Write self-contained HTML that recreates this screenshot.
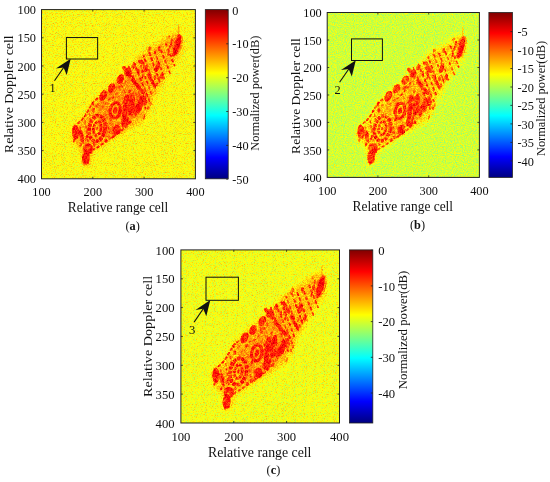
<!DOCTYPE html>
<html><head><meta charset="utf-8"><title>figure</title>
<style>
html,body{margin:0;padding:0;background:#fff}
svg{display:block}
text{font-family:"Liberation Serif","DejaVu Serif",serif;fill:#111}
</style></head><body>
<svg width="550" height="482" viewBox="0 0 550 482">
<defs>
<filter id="b2" x="-20%" y="-20%" width="140%" height="140%"><feGaussianBlur stdDeviation="2.8"/></filter>
<linearGradient id="jet" x1="0" y1="0" x2="0" y2="1">
<stop offset="0" stop-color="#800000"/><stop offset="0.125" stop-color="#ff0000"/><stop offset="0.25" stop-color="#ff8000"/>
<stop offset="0.375" stop-color="#ffff00"/><stop offset="0.5" stop-color="#80ff80"/><stop offset="0.625" stop-color="#00ffff"/>
<stop offset="0.75" stop-color="#0080ff"/><stop offset="0.875" stop-color="#0000ff"/><stop offset="1" stop-color="#000080"/>
</linearGradient>

<filter id="fa" x="41.5" y="9.6" width="153.9" height="169.2" color-interpolation-filters="sRGB" filterUnits="userSpaceOnUse">
<feGaussianBlur in="SourceGraphic" stdDeviation="0.75" result="g"/>
<feTurbulence type="fractalNoise" baseFrequency="0.22" numOctaves="2" seed="104" result="t2"/>
<feColorMatrix in="t2" type="matrix" values="0 0 0 0 1  0 0 0 0 1  0 0 0 0 1  1 0 0 0 0" result="m2"/>
<feComposite in="g" in2="m2" operator="arithmetic" k1="1.6" k2="0.200" k3="0" k4="0" result="gm"/>
<feComponentTransfer in="gm" result="gm"><feFuncA type="table" tableValues="0 0.3 0.52 0.63 0.7"/></feComponentTransfer>
<feFlood flood-color="rgb(160,160,160)" result="fl"/>
<feComposite in="gm" in2="fl" operator="over" result="gb"/>
<feTurbulence type="fractalNoise" baseFrequency="0.9" numOctaves="2" seed="97" result="t"/>
<feColorMatrix in="t" type="matrix" values="1 0 0 0 0  1 0 0 0 0  1 0 0 0 0  0 0 0 0 1" result="n"/>
<feComposite in="gb" in2="n" operator="arithmetic" k1="0" k2="1" k3="0.22" k4="-0.110" result="s"/>
<feComponentTransfer in="s">
<feFuncR type="table" tableValues="0 0 0 0 .5 1 1 1 .5"/>
<feFuncG type="table" tableValues="0 0 .5 1 1 1 .5 0 0"/>
<feFuncB type="table" tableValues=".5 1 1 1 .52 .05 .03 .03 0"/>
<feFuncA type="linear" slope="0" intercept="1"/>
</feComponentTransfer>
</filter>
<clipPath id="ca"><rect x="41.5" y="9.6" width="153.9" height="169.2"/></clipPath>

<filter id="fb" x="327.2" y="12.5" width="152.2" height="164.9" color-interpolation-filters="sRGB" filterUnits="userSpaceOnUse">
<feGaussianBlur in="SourceGraphic" stdDeviation="0.75" result="g"/>
<feTurbulence type="fractalNoise" baseFrequency="0.22" numOctaves="2" seed="105" result="t2"/>
<feColorMatrix in="t2" type="matrix" values="0 0 0 0 1  0 0 0 0 1  0 0 0 0 1  1 0 0 0 0" result="m2"/>
<feComposite in="g" in2="m2" operator="arithmetic" k1="1.6" k2="0.200" k3="0" k4="0" result="gm"/>
<feComponentTransfer in="gm" result="gm"><feFuncA type="table" tableValues="0 0.3 0.52 0.63 0.7"/></feComponentTransfer>
<feFlood flood-color="rgb(148,148,148)" result="fl"/>
<feComposite in="gm" in2="fl" operator="over" result="gb"/>
<feTurbulence type="fractalNoise" baseFrequency="0.9" numOctaves="2" seed="98" result="t"/>
<feColorMatrix in="t" type="matrix" values="1 0 0 0 0  1 0 0 0 0  1 0 0 0 0  0 0 0 0 1" result="n"/>
<feComposite in="gb" in2="n" operator="arithmetic" k1="0" k2="1" k3="0.22" k4="-0.110" result="s"/>
<feComponentTransfer in="s">
<feFuncR type="table" tableValues="0 0 0 0 .5 1 1 1 .5"/>
<feFuncG type="table" tableValues="0 0 .5 1 1 1 .5 0 0"/>
<feFuncB type="table" tableValues=".5 1 1 1 .52 .05 .03 .03 0"/>
<feFuncA type="linear" slope="0" intercept="1"/>
</feComponentTransfer>
</filter>
<clipPath id="cb"><rect x="327.2" y="12.5" width="152.2" height="164.9"/></clipPath>

<filter id="fc" x="180.9" y="249.9" width="158.6" height="173.1" color-interpolation-filters="sRGB" filterUnits="userSpaceOnUse">
<feGaussianBlur in="SourceGraphic" stdDeviation="0.75" result="g"/>
<feTurbulence type="fractalNoise" baseFrequency="0.22" numOctaves="2" seed="106" result="t2"/>
<feColorMatrix in="t2" type="matrix" values="0 0 0 0 1  0 0 0 0 1  0 0 0 0 1  1 0 0 0 0" result="m2"/>
<feComposite in="g" in2="m2" operator="arithmetic" k1="1.6" k2="0.200" k3="0" k4="0" result="gm"/>
<feComponentTransfer in="gm" result="gm"><feFuncA type="table" tableValues="0 0.3 0.52 0.63 0.7"/></feComponentTransfer>
<feFlood flood-color="rgb(157,157,157)" result="fl"/>
<feComposite in="gm" in2="fl" operator="over" result="gb"/>
<feTurbulence type="fractalNoise" baseFrequency="0.9" numOctaves="2" seed="99" result="t"/>
<feColorMatrix in="t" type="matrix" values="1 0 0 0 0  1 0 0 0 0  1 0 0 0 0  0 0 0 0 1" result="n"/>
<feComposite in="gb" in2="n" operator="arithmetic" k1="0" k2="1" k3="0.22" k4="-0.110" result="s"/>
<feComponentTransfer in="s">
<feFuncR type="table" tableValues="0 0 0 0 .5 1 1 1 .5"/>
<feFuncG type="table" tableValues="0 0 .5 1 1 1 .5 0 0"/>
<feFuncB type="table" tableValues=".5 1 1 1 .52 .05 .03 .03 0"/>
<feFuncA type="linear" slope="0" intercept="1"/>
</feComponentTransfer>
</filter>
<clipPath id="cc"><rect x="180.9" y="249.9" width="158.6" height="173.1"/></clipPath>

</defs>

<g clip-path="url(#ca)"><g filter="url(#fa)">
<rect x="41.5" y="9.6" width="153.9" height="169.2" fill="#fff" fill-opacity="0"/>
<g transform="translate(41.50 9.60) scale(1.0000 1.0000) translate(-41.5 -9.6)">
<polygon points="72.0,127.0 80.9,120.8 85.3,115.0 88.9,108.4 93.2,101.2 102.0,92.8 110.5,85.3 119.6,77.0 127.0,69.6 133.8,63.8 138.8,56.5 148.0,49.5 158.0,43.0 168.0,36.0 176.0,31.0 183.0,42.0 181.0,54.0 174.0,63.0 167.0,74.0 162.0,83.0 156.0,93.0 151.0,104.0 147.0,114.0 143.0,121.0 136.0,125.0 130.0,128.0 125.0,131.5 118.0,136.0 110.0,140.5 101.7,146.7 93.0,151.0 91.0,164.0 83.0,166.0 81.0,149.0 72.0,141.0" fill="#fff" fill-opacity="0.16" filter="url(#b2)"/>
<polygon points="96.0,108.0 112.0,90.0 128.0,74.0 140.0,72.0 148.0,98.0 140.0,110.0 128.0,124.0 112.0,136.0 100.0,140.0" fill="#fff" fill-opacity="0.096" filter="url(#b2)"/>
<ellipse cx="75.6" cy="132.5" rx="3.6" ry="7.2" fill="#fff" fill-opacity="0.55"/>
<ellipse cx="81.4" cy="136.0" rx="2.2" ry="6.5" fill="#fff" fill-opacity="0.49500000000000005" transform="rotate(-10 81.4 136.0)"/>
<ellipse cx="88.0" cy="149.0" rx="5.0" ry="5.5" fill="#fff" fill-opacity="0.55"/>
<ellipse cx="85.8" cy="158.0" rx="3.8" ry="7.0" fill="#fff" fill-opacity="0.55" transform="rotate(5 85.8 158.0)"/>
<ellipse cx="97.2" cy="128.5" rx="7.9" ry="13.0" fill="none" stroke="#fff" stroke-opacity="0.66" stroke-width="3.5" stroke-dasharray="3.2 1.0" transform="rotate(10 97.2 128.5)"/>
<ellipse cx="97.2" cy="128.5" rx="3.6" ry="6.8" fill="none" stroke="#fff" stroke-opacity="0.6050000000000001" stroke-width="2.5" stroke-dasharray="2.6 0.9" transform="rotate(10 97.2 128.5)"/>
<ellipse cx="97.2" cy="128.5" rx="1.0" ry="2.0" fill="#fff" fill-opacity="0.55" transform="rotate(10 97.2 128.5)"/>
<ellipse cx="115.2" cy="110.4" rx="5.0" ry="7.8" fill="none" stroke="#fff" stroke-opacity="0.5775000000000001" stroke-width="3.0" transform="rotate(10 115.2 110.4)"/>
<ellipse cx="115.2" cy="110.4" rx="2.0" ry="3.4" fill="#fff" fill-opacity="0.55" transform="rotate(10 115.2 110.4)"/>
<ellipse cx="116.6" cy="129.8" rx="4.2" ry="4.8" fill="#fff" fill-opacity="0.55"/>
<ellipse cx="124.6" cy="122.0" rx="3.8" ry="4.8" fill="#fff" fill-opacity="0.55"/>
<ellipse cx="103.2" cy="95.5" rx="3.4" ry="5.8" fill="#fff" fill-opacity="0.55" transform="rotate(25 103.2 95.5)"/>
<ellipse cx="111.6" cy="87.8" rx="3.4" ry="5.0" fill="#fff" fill-opacity="0.55" transform="rotate(25 111.6 87.8)"/>
<ellipse cx="120.5" cy="79.0" rx="3.4" ry="5.0" fill="#fff" fill-opacity="0.55" transform="rotate(25 120.5 79.0)"/>
<ellipse cx="127.8" cy="71.6" rx="3.0" ry="4.5" fill="#fff" fill-opacity="0.49500000000000005" transform="rotate(25 127.8 71.6)"/>
<ellipse cx="133.8" cy="65.8" rx="2.0" ry="3.0" fill="#fff" fill-opacity="0.44000000000000006" transform="rotate(25 133.8 65.8)"/>
<ellipse cx="124.9" cy="112.0" rx="2.4" ry="10.5" fill="#fff" fill-opacity="0.55" transform="rotate(8 124.9 112.0)"/>
<ellipse cx="126.3" cy="99.5" rx="2.4" ry="5.0" fill="#fff" fill-opacity="0.49500000000000005" transform="rotate(10 126.3 99.5)"/>
<ellipse cx="131.5" cy="104.0" rx="3.1" ry="11.5" fill="#fff" fill-opacity="0.55" transform="rotate(8 131.5 104.0)"/>
<ellipse cx="140.2" cy="104.6" rx="2.7" ry="7.3" fill="#fff" fill-opacity="0.55" transform="rotate(10 140.2 104.6)"/>
<ellipse cx="136.0" cy="111.0" rx="1.8" ry="5.5" fill="#fff" fill-opacity="0.44000000000000006" transform="rotate(10 136.0 111.0)"/>
<ellipse cx="144.5" cy="99.0" rx="1.6" ry="3.5" fill="#fff" fill-opacity="0.44000000000000006" transform="rotate(10 144.5 99.0)"/>
<ellipse cx="132.5" cy="106.0" rx="10.0" ry="14.0" fill="#fff" fill-opacity="0.11000000000000001" transform="rotate(25 132.5 106.0)"/>
<ellipse cx="176.8" cy="46.0" rx="3.0" ry="9.5" fill="#fff" fill-opacity="0.55" transform="rotate(16 176.8 46.0)"/>
<ellipse cx="178.3" cy="40.5" rx="2.4" ry="6.5" fill="#fff" fill-opacity="0.44000000000000006" transform="rotate(14 178.3 40.5)"/>
<ellipse cx="174.8" cy="52.5" rx="2.2" ry="4.5" fill="#fff" fill-opacity="0.385" transform="rotate(22 174.8 52.5)"/>
<ellipse cx="177.0" cy="45.0" rx="5.2" ry="12.0" fill="#fff" fill-opacity="0.15400000000000003" transform="rotate(17 177.0 45.0)"/>
<path d="M166.0 44.0L174.5 65.5" stroke="#fff" stroke-opacity="0.5225" stroke-width="1.7" stroke-dasharray="2.2 3.4" stroke-dashoffset="0.0" stroke-linecap="round" fill="none"/>
<path d="M159.5 46.8L170.7 74.9" stroke="#fff" stroke-opacity="0.5225" stroke-width="1.7" stroke-dasharray="2.2 3.4" stroke-dashoffset="1.7" stroke-linecap="round" fill="none"/>
<path d="M154.0 49.6L164.2 78.6" stroke="#fff" stroke-opacity="0.5225" stroke-width="1.7" stroke-dasharray="2.2 3.4" stroke-dashoffset="3.4" stroke-linecap="round" fill="none"/>
<path d="M149.3 52.4L160.5 84.2" stroke="#fff" stroke-opacity="0.5225" stroke-width="1.7" stroke-dasharray="2.2 3.4" stroke-dashoffset="5.1" stroke-linecap="round" fill="none"/>
<path d="M143.6 55.2L155.8 89.8" stroke="#fff" stroke-opacity="0.5225" stroke-width="1.7" stroke-dasharray="2.2 3.4" stroke-dashoffset="6.8" stroke-linecap="round" fill="none"/>
<path d="M138.0 58.0L152.0 95.4" stroke="#fff" stroke-opacity="0.5225" stroke-width="1.7" stroke-dasharray="2.2 3.4" stroke-dashoffset="8.5" stroke-linecap="round" fill="none"/>
<path d="M133.4 61.8L150.2 102.9" stroke="#fff" stroke-opacity="0.5225" stroke-width="1.7" stroke-dasharray="2.2 3.4" stroke-dashoffset="10.2" stroke-linecap="round" fill="none"/>
<path d="M128.7 66.4L145.5 108.5" stroke="#fff" stroke-opacity="0.5225" stroke-width="1.7" stroke-dasharray="2.2 3.4" stroke-dashoffset="11.9" stroke-linecap="round" fill="none"/>
<path d="M124.0 68.0L130.5 76.5" stroke="#fff" stroke-opacity="0.49500000000000005" stroke-width="3.8" stroke-dasharray="3.6 2.6" stroke-dashoffset="0" stroke-linecap="round" fill="none"/>
<path d="M133.0 80.0L144.5 94.0" stroke="#fff" stroke-opacity="0.49500000000000005" stroke-width="3.6" stroke-dasharray="3.6 2.6" stroke-dashoffset="0" stroke-linecap="round" fill="none"/>
<path d="M141.5 61.5L147.0 71.5" stroke="#fff" stroke-opacity="0.49500000000000005" stroke-width="3.4" stroke-dasharray="3.6 2.6" stroke-dashoffset="0" stroke-linecap="round" fill="none"/>
<path d="M148.5 75.0L154.5 86.0" stroke="#fff" stroke-opacity="0.49500000000000005" stroke-width="3.2" stroke-dasharray="3.6 2.6" stroke-dashoffset="0" stroke-linecap="round" fill="none"/>
<ellipse cx="178.6" cy="30.0" rx="0.9" ry="6.0" fill="#fff" fill-opacity="0.165"/>
<ellipse cx="157.2" cy="67.5" rx="2.2" ry="4.2" fill="#fff" fill-opacity="0.55" transform="rotate(20 157.2 67.5)"/>
<ellipse cx="161.5" cy="76.0" rx="1.6" ry="2.8" fill="#fff" fill-opacity="0.44000000000000006" transform="rotate(20 161.5 76.0)"/>
<path d="M74.0 126.5L80.9 121.0L85.3 115.5L88.9 109.0L93.2 102.2L98.0 98.0" stroke="#fff" stroke-opacity="0.55" stroke-width="1.8" stroke-dasharray="2 3" stroke-linecap="round" stroke-linejoin="round" fill="none"/>
<path d="M80.0 127.0L84.0 146.0" stroke="#fff" stroke-opacity="0.385" stroke-width="1.5" stroke-dasharray="1.8 3" stroke-dashoffset="0" stroke-linecap="round" fill="none"/>
<path d="M85.0 121.0L88.0 141.0" stroke="#fff" stroke-opacity="0.385" stroke-width="1.5" stroke-dasharray="1.8 3" stroke-dashoffset="0" stroke-linecap="round" fill="none"/>
<path d="M89.5 114.0L90.5 122.0" stroke="#fff" stroke-opacity="0.385" stroke-width="1.5" stroke-dasharray="1.8 3" stroke-dashoffset="0" stroke-linecap="round" fill="none"/>
<path d="M93.0 150.0L101.7 144.7L110.0 138.5L117.0 134.0L124.0 128.5L130.0 122.0" stroke="#fff" stroke-opacity="0.49500000000000005" stroke-width="1.8" stroke-dasharray="1.8 3.2" stroke-linecap="round" stroke-linejoin="round" fill="none"/>
<path d="M100.0 139.0L106.0 140.0L112.0 134.0L121.0 131.0" stroke="#fff" stroke-opacity="0.385" stroke-width="1.5" stroke-dasharray="1.8 3.2" stroke-linecap="round" stroke-linejoin="round" fill="none"/>
<path d="M104.0 118.0L108.0 126.0L110.0 136.0" stroke="#fff" stroke-opacity="0.385" stroke-width="1.5" stroke-dasharray="1.8 3.2" stroke-linecap="round" stroke-linejoin="round" fill="none"/>
<path d="M105.0 104.0L108.0 100.0L114.0 97.0L120.0 90.0L124.0 86.0" stroke="#fff" stroke-opacity="0.385" stroke-width="1.5" stroke-dasharray="1.8 3.2" stroke-linecap="round" stroke-linejoin="round" fill="none"/>
<ellipse cx="97.4" cy="105.1" rx="1.1" ry="2.2" fill="#fff" fill-opacity="0.3912608908766389" transform="rotate(20 97.4 105.1)"/>
<ellipse cx="124.0" cy="106.0" rx="0.9" ry="2.4" fill="#fff" fill-opacity="0.45452420919041125" transform="rotate(20 124.0 106.0)"/>
<ellipse cx="124.8" cy="118.2" rx="0.9" ry="2.3" fill="#fff" fill-opacity="0.3440093384195852" transform="rotate(20 124.8 118.2)"/>
<ellipse cx="88.3" cy="162.1" rx="0.8" ry="2.5" fill="#fff" fill-opacity="0.3645053994447031" transform="rotate(10 88.3 162.1)"/>
<ellipse cx="171.1" cy="43.4" rx="0.9" ry="1.7" fill="#fff" fill-opacity="0.3554500619902888" transform="rotate(20 171.1 43.4)"/>
<ellipse cx="142.1" cy="71.5" rx="1.2" ry="1.9" fill="#fff" fill-opacity="0.3796905135348875" transform="rotate(10 142.1 71.5)"/>
<ellipse cx="150.3" cy="75.0" rx="1.2" ry="2.2" fill="#fff" fill-opacity="0.42416971249311436"/>
<ellipse cx="94.3" cy="144.8" rx="1.2" ry="1.8" fill="#fff" fill-opacity="0.36679535213001646"/>
<ellipse cx="143.5" cy="96.7" rx="1.0" ry="1.5" fill="#fff" fill-opacity="0.25248102512387993"/>
<ellipse cx="119.1" cy="87.3" rx="0.9" ry="2.2" fill="#fff" fill-opacity="0.3410066803195627"/>
<ellipse cx="137.4" cy="106.0" rx="1.4" ry="1.8" fill="#fff" fill-opacity="0.4946309639805047"/>
<ellipse cx="122.9" cy="101.8" rx="1.3" ry="2.2" fill="#fff" fill-opacity="0.2728867743609937" transform="rotate(20 122.9 101.8)"/>
<ellipse cx="142.9" cy="75.9" rx="1.0" ry="2.7" fill="#fff" fill-opacity="0.42247018671806" transform="rotate(20 142.9 75.9)"/>
<ellipse cx="138.5" cy="71.5" rx="1.1" ry="2.5" fill="#fff" fill-opacity="0.48791518901207565"/>
<ellipse cx="127.5" cy="120.2" rx="1.0" ry="1.9" fill="#fff" fill-opacity="0.35522049433187325" transform="rotate(20 127.5 120.2)"/>
<ellipse cx="168.4" cy="53.4" rx="1.0" ry="2.3" fill="#fff" fill-opacity="0.3591477906105926" transform="rotate(20 168.4 53.4)"/>
<ellipse cx="162.7" cy="77.6" rx="0.9" ry="1.8" fill="#fff" fill-opacity="0.36251839692311505" transform="rotate(10 162.7 77.6)"/>
<ellipse cx="142.9" cy="70.1" rx="1.2" ry="1.4" fill="#fff" fill-opacity="0.2861094700872439" transform="rotate(10 142.9 70.1)"/>
<ellipse cx="146.2" cy="101.6" rx="1.0" ry="1.9" fill="#fff" fill-opacity="0.4607289531964566"/>
<ellipse cx="74.0" cy="140.8" rx="1.2" ry="1.7" fill="#fff" fill-opacity="0.3902959674948143" transform="rotate(10 74.0 140.8)"/>
<ellipse cx="146.2" cy="102.4" rx="1.1" ry="2.7" fill="#fff" fill-opacity="0.27561285860452645" transform="rotate(20 146.2 102.4)"/>
<ellipse cx="84.4" cy="164.1" rx="1.2" ry="2.5" fill="#fff" fill-opacity="0.33458080347365726"/>
<ellipse cx="92.7" cy="103.8" rx="1.4" ry="1.6" fill="#fff" fill-opacity="0.4756372115402239" transform="rotate(10 92.7 103.8)"/>
<ellipse cx="169.2" cy="36.9" rx="1.0" ry="1.8" fill="#fff" fill-opacity="0.3761188260442655" transform="rotate(20 169.2 36.9)"/>
<ellipse cx="73.8" cy="128.4" rx="1.2" ry="2.1" fill="#fff" fill-opacity="0.32535850057575366"/>
<ellipse cx="110.4" cy="119.3" rx="1.2" ry="1.9" fill="#fff" fill-opacity="0.49203563175255166"/>
<ellipse cx="144.8" cy="104.7" rx="1.2" ry="1.5" fill="#fff" fill-opacity="0.26063352966438225" transform="rotate(10 144.8 104.7)"/>
<ellipse cx="170.1" cy="46.8" rx="1.3" ry="2.7" fill="#fff" fill-opacity="0.4114166768478115" transform="rotate(20 170.1 46.8)"/>
<ellipse cx="86.5" cy="136.9" rx="0.8" ry="1.5" fill="#fff" fill-opacity="0.4106537215442643"/>
<ellipse cx="125.4" cy="126.1" rx="1.0" ry="1.8" fill="#fff" fill-opacity="0.2564766442892755"/>
<ellipse cx="156.7" cy="84.3" rx="1.1" ry="2.0" fill="#fff" fill-opacity="0.38526808154589587" transform="rotate(10 156.7 84.3)"/>
<ellipse cx="148.8" cy="51.6" rx="1.1" ry="2.6" fill="#fff" fill-opacity="0.2712255308832578"/>
<ellipse cx="129.5" cy="91.1" rx="1.3" ry="1.7" fill="#fff" fill-opacity="0.43363295560178916" transform="rotate(10 129.5 91.1)"/>
<ellipse cx="138.5" cy="110.7" rx="1.5" ry="2.6" fill="#fff" fill-opacity="0.2532233772155134" transform="rotate(10 138.5 110.7)"/>
<ellipse cx="125.1" cy="82.8" rx="0.9" ry="1.9" fill="#fff" fill-opacity="0.36694242169421637" transform="rotate(10 125.1 82.8)"/>
<ellipse cx="93.7" cy="110.1" rx="1.4" ry="2.3" fill="#fff" fill-opacity="0.36662158128407146"/>
<ellipse cx="116.0" cy="131.2" rx="1.5" ry="2.1" fill="#fff" fill-opacity="0.4680196889535169"/>
<ellipse cx="159.2" cy="49.0" rx="1.2" ry="2.3" fill="#fff" fill-opacity="0.47019059997878737"/>
<ellipse cx="80.7" cy="145.1" rx="1.0" ry="1.9" fill="#fff" fill-opacity="0.4291882426082199" transform="rotate(20 80.7 145.1)"/>
<ellipse cx="171.6" cy="40.5" rx="1.1" ry="2.0" fill="#fff" fill-opacity="0.4724185955867527" transform="rotate(20 171.6 40.5)"/>
<ellipse cx="113.0" cy="136.6" rx="1.3" ry="1.8" fill="#fff" fill-opacity="0.41331674782100625" transform="rotate(20 113.0 136.6)"/>
<ellipse cx="130.5" cy="122.0" rx="1.2" ry="1.5" fill="#fff" fill-opacity="0.41543960072214725" transform="rotate(10 130.5 122.0)"/>
<ellipse cx="144.3" cy="117.1" rx="0.9" ry="2.6" fill="#fff" fill-opacity="0.359923847451619" transform="rotate(20 144.3 117.1)"/>
<ellipse cx="144.7" cy="88.0" rx="1.0" ry="1.7" fill="#fff" fill-opacity="0.3248295746266643" transform="rotate(10 144.7 88.0)"/>
<ellipse cx="158.7" cy="78.7" rx="1.4" ry="1.6" fill="#fff" fill-opacity="0.3935544057910373" transform="rotate(10 158.7 78.7)"/>
<ellipse cx="148.4" cy="107.9" rx="1.4" ry="1.6" fill="#fff" fill-opacity="0.29431945691149847" transform="rotate(20 148.4 107.9)"/>
<ellipse cx="117.9" cy="132.6" rx="1.4" ry="2.4" fill="#fff" fill-opacity="0.39795377901756473" transform="rotate(20 117.9 132.6)"/>
<ellipse cx="90.6" cy="149.9" rx="1.1" ry="1.8" fill="#fff" fill-opacity="0.468072028054213" transform="rotate(10 90.6 149.9)"/>
<ellipse cx="133.5" cy="110.5" rx="1.2" ry="2.8" fill="#fff" fill-opacity="0.4224683242969392" transform="rotate(20 133.5 110.5)"/>
<ellipse cx="156.9" cy="62.3" rx="0.9" ry="2.3" fill="#fff" fill-opacity="0.2953755139081374"/>
<ellipse cx="127.6" cy="119.1" rx="1.1" ry="2.2" fill="#fff" fill-opacity="0.4682824651544599" transform="rotate(20 127.6 119.1)"/>
<ellipse cx="85.6" cy="139.3" rx="1.2" ry="1.5" fill="#fff" fill-opacity="0.4005398439077282" transform="rotate(10 85.6 139.3)"/>
<ellipse cx="128.2" cy="98.8" rx="0.8" ry="1.9" fill="#fff" fill-opacity="0.46295141298391923" transform="rotate(10 128.2 98.8)"/>
<ellipse cx="149.9" cy="48.5" rx="1.4" ry="2.2" fill="#fff" fill-opacity="0.4246981500260026"/>
<ellipse cx="155.1" cy="77.4" rx="1.4" ry="2.7" fill="#fff" fill-opacity="0.3556636176482625"/>
<ellipse cx="150.4" cy="104.2" rx="1.1" ry="2.3" fill="#fff" fill-opacity="0.25328390749126906" transform="rotate(10 150.4 104.2)"/>
<ellipse cx="122.6" cy="125.4" rx="1.1" ry="2.0" fill="#fff" fill-opacity="0.42562377397727574"/>
<ellipse cx="130.9" cy="112.3" rx="1.0" ry="1.4" fill="#fff" fill-opacity="0.31152165311453583"/>
<ellipse cx="127.9" cy="117.9" rx="0.9" ry="2.3" fill="#fff" fill-opacity="0.3688430986235907" transform="rotate(10 127.9 117.9)"/>
<ellipse cx="121.5" cy="86.3" rx="1.3" ry="1.5" fill="#fff" fill-opacity="0.25718615888178864" transform="rotate(10 121.5 86.3)"/>
</g>
</g></g>
<rect x="41.5" y="9.6" width="153.9" height="169.2" fill="none" stroke="#222" stroke-width="1"/>
<path d="M41.5 37.8h2M195.4 37.8h-2" stroke="#222" stroke-width="0.8"/>
<path d="M41.5 66.0h2M195.4 66.0h-2" stroke="#222" stroke-width="0.8"/>
<path d="M41.5 94.2h2M195.4 94.2h-2" stroke="#222" stroke-width="0.8"/>
<path d="M41.5 122.4h2M195.4 122.4h-2" stroke="#222" stroke-width="0.8"/>
<path d="M41.5 150.6h2M195.4 150.6h-2" stroke="#222" stroke-width="0.8"/>
<path d="M92.8 178.79999999999998v-2M92.8 9.6v2" stroke="#222" stroke-width="0.8"/>
<path d="M144.1 178.79999999999998v-2M144.1 9.6v2" stroke="#222" stroke-width="0.8"/>
<text transform="translate(36.0 14.2) scale(1 1.05)" font-size="12.3" text-anchor="end">100</text>
<text transform="translate(36.0 42.4) scale(1 1.05)" font-size="12.3" text-anchor="end">150</text>
<text transform="translate(36.0 70.6) scale(1 1.05)" font-size="12.3" text-anchor="end">200</text>
<text transform="translate(36.0 98.8) scale(1 1.05)" font-size="12.3" text-anchor="end">250</text>
<text transform="translate(36.0 127.0) scale(1 1.05)" font-size="12.3" text-anchor="end">300</text>
<text transform="translate(36.0 155.2) scale(1 1.05)" font-size="12.3" text-anchor="end">350</text>
<text transform="translate(36.0 183.4) scale(1 1.05)" font-size="12.3" text-anchor="end">400</text>
<text transform="translate(41.5 196.3) scale(1 1.05)" font-size="12.3" text-anchor="middle">100</text>
<text transform="translate(92.8 196.3) scale(1 1.05)" font-size="12.3" text-anchor="middle">200</text>
<text transform="translate(144.1 196.3) scale(1 1.05)" font-size="12.3" text-anchor="middle">300</text>
<text transform="translate(195.4 196.3) scale(1 1.05)" font-size="12.3" text-anchor="middle">400</text>
<text transform="translate(118.0 211.8) scale(1 1.05)" font-size="13.43" text-anchor="middle">Relative range cell</text>
<text transform="translate(13.0 94.2) scale(1 1.05) rotate(-90)" font-size="13.1" text-anchor="middle">Relative Doppler cell</text>
<text transform="translate(132.7 229.8) scale(1 1.05)" font-size="12.3" text-anchor="middle">(<tspan font-weight="bold">a</tspan>)</text>
<rect x="66.4" y="37.55" width="31.25" height="21.45" fill="none" stroke="#111" stroke-width="1"/>
<g transform="translate(0.00 0.00)"><path d="M54.5 80.8L64 67" stroke="#111" stroke-width="1.1" fill="none"/><path d="M70.7 58.8L55.9 68.6L63.6 67.4L66.7 75Z" fill="#111"/><text transform="translate(52.5 92.3) scale(1 1.05)" font-size="12.3" text-anchor="middle">1</text></g>
<rect x="205.3" y="9.6" width="22.9" height="169.2" fill="url(#jet)" stroke="#222" stroke-width="0.8"/>
<path d="M228.20000000000002 10.0h-2" stroke="#222" stroke-width="0.8"/>
<text transform="translate(232.2 14.6) scale(1 1.05)" font-size="12.3" text-anchor="start">0</text>
<path d="M228.20000000000002 43.8h-2" stroke="#222" stroke-width="0.8"/>
<text transform="translate(232.2 48.4) scale(1 1.05)" font-size="12.3" text-anchor="start">-10</text>
<path d="M228.20000000000002 77.7h-2" stroke="#222" stroke-width="0.8"/>
<text transform="translate(232.2 82.3) scale(1 1.05)" font-size="12.3" text-anchor="start">-20</text>
<path d="M228.20000000000002 111.5h-2" stroke="#222" stroke-width="0.8"/>
<text transform="translate(232.2 116.1) scale(1 1.05)" font-size="12.3" text-anchor="start">-30</text>
<path d="M228.20000000000002 145.4h-2" stroke="#222" stroke-width="0.8"/>
<text transform="translate(232.2 150.0) scale(1 1.05)" font-size="12.3" text-anchor="start">-40</text>
<path d="M228.20000000000002 179.2h-2" stroke="#222" stroke-width="0.8"/>
<text transform="translate(232.2 183.8) scale(1 1.05)" font-size="12.3" text-anchor="start">-50</text>
<text transform="translate(258.7 93.2) scale(1 1.05) rotate(-90)" font-size="11.8" text-anchor="middle">Normalized power(dB)</text>
<g clip-path="url(#cb)"><g filter="url(#fb)">
<rect x="327.2" y="12.5" width="152.2" height="164.9" fill="#fff" fill-opacity="0"/>
<g transform="translate(327.20 12.50) scale(0.9890 0.9746) translate(-41.5 -9.6)">
<polygon points="72.0,127.0 80.9,120.8 85.3,115.0 88.9,108.4 93.2,101.2 102.0,92.8 110.5,85.3 119.6,77.0 127.0,69.6 133.8,63.8 138.8,56.5 148.0,49.5 158.0,43.0 168.0,36.0 176.0,31.0 183.0,42.0 181.0,54.0 174.0,63.0 167.0,74.0 162.0,83.0 156.0,93.0 151.0,104.0 147.0,114.0 143.0,121.0 136.0,125.0 130.0,128.0 125.0,131.5 118.0,136.0 110.0,140.5 101.7,146.7 93.0,151.0 91.0,164.0 83.0,166.0 81.0,149.0 72.0,141.0" fill="#fff" fill-opacity="0.16" filter="url(#b2)"/>
<polygon points="96.0,108.0 112.0,90.0 128.0,74.0 140.0,72.0 148.0,98.0 140.0,110.0 128.0,124.0 112.0,136.0 100.0,140.0" fill="#fff" fill-opacity="0.096" filter="url(#b2)"/>
<ellipse cx="75.6" cy="132.5" rx="3.6" ry="7.2" fill="#fff" fill-opacity="0.55"/>
<ellipse cx="81.4" cy="136.0" rx="2.2" ry="6.5" fill="#fff" fill-opacity="0.49500000000000005" transform="rotate(-10 81.4 136.0)"/>
<ellipse cx="88.0" cy="149.0" rx="5.0" ry="5.5" fill="#fff" fill-opacity="0.55"/>
<ellipse cx="85.8" cy="158.0" rx="3.8" ry="7.0" fill="#fff" fill-opacity="0.55" transform="rotate(5 85.8 158.0)"/>
<ellipse cx="97.2" cy="128.5" rx="7.9" ry="13.0" fill="none" stroke="#fff" stroke-opacity="0.66" stroke-width="3.5" stroke-dasharray="3.2 1.0" transform="rotate(10 97.2 128.5)"/>
<ellipse cx="97.2" cy="128.5" rx="3.6" ry="6.8" fill="none" stroke="#fff" stroke-opacity="0.6050000000000001" stroke-width="2.5" stroke-dasharray="2.6 0.9" transform="rotate(10 97.2 128.5)"/>
<ellipse cx="97.2" cy="128.5" rx="1.0" ry="2.0" fill="#fff" fill-opacity="0.55" transform="rotate(10 97.2 128.5)"/>
<ellipse cx="115.2" cy="110.4" rx="5.0" ry="7.8" fill="none" stroke="#fff" stroke-opacity="0.5775000000000001" stroke-width="3.0" transform="rotate(10 115.2 110.4)"/>
<ellipse cx="115.2" cy="110.4" rx="2.0" ry="3.4" fill="#fff" fill-opacity="0.55" transform="rotate(10 115.2 110.4)"/>
<ellipse cx="116.6" cy="129.8" rx="4.2" ry="4.8" fill="#fff" fill-opacity="0.55"/>
<ellipse cx="124.6" cy="122.0" rx="3.8" ry="4.8" fill="#fff" fill-opacity="0.55"/>
<ellipse cx="103.2" cy="95.5" rx="3.4" ry="5.8" fill="#fff" fill-opacity="0.55" transform="rotate(25 103.2 95.5)"/>
<ellipse cx="111.6" cy="87.8" rx="3.4" ry="5.0" fill="#fff" fill-opacity="0.55" transform="rotate(25 111.6 87.8)"/>
<ellipse cx="120.5" cy="79.0" rx="3.4" ry="5.0" fill="#fff" fill-opacity="0.55" transform="rotate(25 120.5 79.0)"/>
<ellipse cx="127.8" cy="71.6" rx="3.0" ry="4.5" fill="#fff" fill-opacity="0.49500000000000005" transform="rotate(25 127.8 71.6)"/>
<ellipse cx="133.8" cy="65.8" rx="2.0" ry="3.0" fill="#fff" fill-opacity="0.44000000000000006" transform="rotate(25 133.8 65.8)"/>
<ellipse cx="124.9" cy="112.0" rx="2.4" ry="10.5" fill="#fff" fill-opacity="0.55" transform="rotate(8 124.9 112.0)"/>
<ellipse cx="126.3" cy="99.5" rx="2.4" ry="5.0" fill="#fff" fill-opacity="0.49500000000000005" transform="rotate(10 126.3 99.5)"/>
<ellipse cx="131.5" cy="104.0" rx="3.1" ry="11.5" fill="#fff" fill-opacity="0.55" transform="rotate(8 131.5 104.0)"/>
<ellipse cx="140.2" cy="104.6" rx="2.7" ry="7.3" fill="#fff" fill-opacity="0.55" transform="rotate(10 140.2 104.6)"/>
<ellipse cx="136.0" cy="111.0" rx="1.8" ry="5.5" fill="#fff" fill-opacity="0.44000000000000006" transform="rotate(10 136.0 111.0)"/>
<ellipse cx="144.5" cy="99.0" rx="1.6" ry="3.5" fill="#fff" fill-opacity="0.44000000000000006" transform="rotate(10 144.5 99.0)"/>
<ellipse cx="132.5" cy="106.0" rx="10.0" ry="14.0" fill="#fff" fill-opacity="0.11000000000000001" transform="rotate(25 132.5 106.0)"/>
<ellipse cx="176.8" cy="46.0" rx="3.0" ry="9.5" fill="#fff" fill-opacity="0.55" transform="rotate(16 176.8 46.0)"/>
<ellipse cx="178.3" cy="40.5" rx="2.4" ry="6.5" fill="#fff" fill-opacity="0.44000000000000006" transform="rotate(14 178.3 40.5)"/>
<ellipse cx="174.8" cy="52.5" rx="2.2" ry="4.5" fill="#fff" fill-opacity="0.385" transform="rotate(22 174.8 52.5)"/>
<ellipse cx="177.0" cy="45.0" rx="5.2" ry="12.0" fill="#fff" fill-opacity="0.15400000000000003" transform="rotate(17 177.0 45.0)"/>
<path d="M166.0 44.0L174.5 65.5" stroke="#fff" stroke-opacity="0.5225" stroke-width="1.7" stroke-dasharray="2.2 3.4" stroke-dashoffset="0.0" stroke-linecap="round" fill="none"/>
<path d="M159.5 46.8L170.7 74.9" stroke="#fff" stroke-opacity="0.5225" stroke-width="1.7" stroke-dasharray="2.2 3.4" stroke-dashoffset="1.7" stroke-linecap="round" fill="none"/>
<path d="M154.0 49.6L164.2 78.6" stroke="#fff" stroke-opacity="0.5225" stroke-width="1.7" stroke-dasharray="2.2 3.4" stroke-dashoffset="3.4" stroke-linecap="round" fill="none"/>
<path d="M149.3 52.4L160.5 84.2" stroke="#fff" stroke-opacity="0.5225" stroke-width="1.7" stroke-dasharray="2.2 3.4" stroke-dashoffset="5.1" stroke-linecap="round" fill="none"/>
<path d="M143.6 55.2L155.8 89.8" stroke="#fff" stroke-opacity="0.5225" stroke-width="1.7" stroke-dasharray="2.2 3.4" stroke-dashoffset="6.8" stroke-linecap="round" fill="none"/>
<path d="M138.0 58.0L152.0 95.4" stroke="#fff" stroke-opacity="0.5225" stroke-width="1.7" stroke-dasharray="2.2 3.4" stroke-dashoffset="8.5" stroke-linecap="round" fill="none"/>
<path d="M133.4 61.8L150.2 102.9" stroke="#fff" stroke-opacity="0.5225" stroke-width="1.7" stroke-dasharray="2.2 3.4" stroke-dashoffset="10.2" stroke-linecap="round" fill="none"/>
<path d="M128.7 66.4L145.5 108.5" stroke="#fff" stroke-opacity="0.5225" stroke-width="1.7" stroke-dasharray="2.2 3.4" stroke-dashoffset="11.9" stroke-linecap="round" fill="none"/>
<path d="M124.0 68.0L130.5 76.5" stroke="#fff" stroke-opacity="0.49500000000000005" stroke-width="3.8" stroke-dasharray="3.6 2.6" stroke-dashoffset="0" stroke-linecap="round" fill="none"/>
<path d="M133.0 80.0L144.5 94.0" stroke="#fff" stroke-opacity="0.49500000000000005" stroke-width="3.6" stroke-dasharray="3.6 2.6" stroke-dashoffset="0" stroke-linecap="round" fill="none"/>
<path d="M141.5 61.5L147.0 71.5" stroke="#fff" stroke-opacity="0.49500000000000005" stroke-width="3.4" stroke-dasharray="3.6 2.6" stroke-dashoffset="0" stroke-linecap="round" fill="none"/>
<path d="M148.5 75.0L154.5 86.0" stroke="#fff" stroke-opacity="0.49500000000000005" stroke-width="3.2" stroke-dasharray="3.6 2.6" stroke-dashoffset="0" stroke-linecap="round" fill="none"/>
<ellipse cx="178.6" cy="30.0" rx="0.9" ry="6.0" fill="#fff" fill-opacity="0.165"/>
<ellipse cx="157.2" cy="67.5" rx="2.2" ry="4.2" fill="#fff" fill-opacity="0.55" transform="rotate(20 157.2 67.5)"/>
<ellipse cx="161.5" cy="76.0" rx="1.6" ry="2.8" fill="#fff" fill-opacity="0.44000000000000006" transform="rotate(20 161.5 76.0)"/>
<path d="M74.0 126.5L80.9 121.0L85.3 115.5L88.9 109.0L93.2 102.2L98.0 98.0" stroke="#fff" stroke-opacity="0.55" stroke-width="1.8" stroke-dasharray="2 3" stroke-linecap="round" stroke-linejoin="round" fill="none"/>
<path d="M80.0 127.0L84.0 146.0" stroke="#fff" stroke-opacity="0.385" stroke-width="1.5" stroke-dasharray="1.8 3" stroke-dashoffset="0" stroke-linecap="round" fill="none"/>
<path d="M85.0 121.0L88.0 141.0" stroke="#fff" stroke-opacity="0.385" stroke-width="1.5" stroke-dasharray="1.8 3" stroke-dashoffset="0" stroke-linecap="round" fill="none"/>
<path d="M89.5 114.0L90.5 122.0" stroke="#fff" stroke-opacity="0.385" stroke-width="1.5" stroke-dasharray="1.8 3" stroke-dashoffset="0" stroke-linecap="round" fill="none"/>
<path d="M93.0 150.0L101.7 144.7L110.0 138.5L117.0 134.0L124.0 128.5L130.0 122.0" stroke="#fff" stroke-opacity="0.49500000000000005" stroke-width="1.8" stroke-dasharray="1.8 3.2" stroke-linecap="round" stroke-linejoin="round" fill="none"/>
<path d="M100.0 139.0L106.0 140.0L112.0 134.0L121.0 131.0" stroke="#fff" stroke-opacity="0.385" stroke-width="1.5" stroke-dasharray="1.8 3.2" stroke-linecap="round" stroke-linejoin="round" fill="none"/>
<path d="M104.0 118.0L108.0 126.0L110.0 136.0" stroke="#fff" stroke-opacity="0.385" stroke-width="1.5" stroke-dasharray="1.8 3.2" stroke-linecap="round" stroke-linejoin="round" fill="none"/>
<path d="M105.0 104.0L108.0 100.0L114.0 97.0L120.0 90.0L124.0 86.0" stroke="#fff" stroke-opacity="0.385" stroke-width="1.5" stroke-dasharray="1.8 3.2" stroke-linecap="round" stroke-linejoin="round" fill="none"/>
<ellipse cx="97.4" cy="105.1" rx="1.1" ry="2.2" fill="#fff" fill-opacity="0.3912608908766389" transform="rotate(20 97.4 105.1)"/>
<ellipse cx="124.0" cy="106.0" rx="0.9" ry="2.4" fill="#fff" fill-opacity="0.45452420919041125" transform="rotate(20 124.0 106.0)"/>
<ellipse cx="124.8" cy="118.2" rx="0.9" ry="2.3" fill="#fff" fill-opacity="0.3440093384195852" transform="rotate(20 124.8 118.2)"/>
<ellipse cx="88.3" cy="162.1" rx="0.8" ry="2.5" fill="#fff" fill-opacity="0.3645053994447031" transform="rotate(10 88.3 162.1)"/>
<ellipse cx="171.1" cy="43.4" rx="0.9" ry="1.7" fill="#fff" fill-opacity="0.3554500619902888" transform="rotate(20 171.1 43.4)"/>
<ellipse cx="142.1" cy="71.5" rx="1.2" ry="1.9" fill="#fff" fill-opacity="0.3796905135348875" transform="rotate(10 142.1 71.5)"/>
<ellipse cx="150.3" cy="75.0" rx="1.2" ry="2.2" fill="#fff" fill-opacity="0.42416971249311436"/>
<ellipse cx="94.3" cy="144.8" rx="1.2" ry="1.8" fill="#fff" fill-opacity="0.36679535213001646"/>
<ellipse cx="143.5" cy="96.7" rx="1.0" ry="1.5" fill="#fff" fill-opacity="0.25248102512387993"/>
<ellipse cx="119.1" cy="87.3" rx="0.9" ry="2.2" fill="#fff" fill-opacity="0.3410066803195627"/>
<ellipse cx="137.4" cy="106.0" rx="1.4" ry="1.8" fill="#fff" fill-opacity="0.4946309639805047"/>
<ellipse cx="122.9" cy="101.8" rx="1.3" ry="2.2" fill="#fff" fill-opacity="0.2728867743609937" transform="rotate(20 122.9 101.8)"/>
<ellipse cx="142.9" cy="75.9" rx="1.0" ry="2.7" fill="#fff" fill-opacity="0.42247018671806" transform="rotate(20 142.9 75.9)"/>
<ellipse cx="138.5" cy="71.5" rx="1.1" ry="2.5" fill="#fff" fill-opacity="0.48791518901207565"/>
<ellipse cx="127.5" cy="120.2" rx="1.0" ry="1.9" fill="#fff" fill-opacity="0.35522049433187325" transform="rotate(20 127.5 120.2)"/>
<ellipse cx="168.4" cy="53.4" rx="1.0" ry="2.3" fill="#fff" fill-opacity="0.3591477906105926" transform="rotate(20 168.4 53.4)"/>
<ellipse cx="162.7" cy="77.6" rx="0.9" ry="1.8" fill="#fff" fill-opacity="0.36251839692311505" transform="rotate(10 162.7 77.6)"/>
<ellipse cx="142.9" cy="70.1" rx="1.2" ry="1.4" fill="#fff" fill-opacity="0.2861094700872439" transform="rotate(10 142.9 70.1)"/>
<ellipse cx="146.2" cy="101.6" rx="1.0" ry="1.9" fill="#fff" fill-opacity="0.4607289531964566"/>
<ellipse cx="74.0" cy="140.8" rx="1.2" ry="1.7" fill="#fff" fill-opacity="0.3902959674948143" transform="rotate(10 74.0 140.8)"/>
<ellipse cx="146.2" cy="102.4" rx="1.1" ry="2.7" fill="#fff" fill-opacity="0.27561285860452645" transform="rotate(20 146.2 102.4)"/>
<ellipse cx="84.4" cy="164.1" rx="1.2" ry="2.5" fill="#fff" fill-opacity="0.33458080347365726"/>
<ellipse cx="92.7" cy="103.8" rx="1.4" ry="1.6" fill="#fff" fill-opacity="0.4756372115402239" transform="rotate(10 92.7 103.8)"/>
<ellipse cx="169.2" cy="36.9" rx="1.0" ry="1.8" fill="#fff" fill-opacity="0.3761188260442655" transform="rotate(20 169.2 36.9)"/>
<ellipse cx="73.8" cy="128.4" rx="1.2" ry="2.1" fill="#fff" fill-opacity="0.32535850057575366"/>
<ellipse cx="110.4" cy="119.3" rx="1.2" ry="1.9" fill="#fff" fill-opacity="0.49203563175255166"/>
<ellipse cx="144.8" cy="104.7" rx="1.2" ry="1.5" fill="#fff" fill-opacity="0.26063352966438225" transform="rotate(10 144.8 104.7)"/>
<ellipse cx="170.1" cy="46.8" rx="1.3" ry="2.7" fill="#fff" fill-opacity="0.4114166768478115" transform="rotate(20 170.1 46.8)"/>
<ellipse cx="86.5" cy="136.9" rx="0.8" ry="1.5" fill="#fff" fill-opacity="0.4106537215442643"/>
<ellipse cx="125.4" cy="126.1" rx="1.0" ry="1.8" fill="#fff" fill-opacity="0.2564766442892755"/>
<ellipse cx="156.7" cy="84.3" rx="1.1" ry="2.0" fill="#fff" fill-opacity="0.38526808154589587" transform="rotate(10 156.7 84.3)"/>
<ellipse cx="148.8" cy="51.6" rx="1.1" ry="2.6" fill="#fff" fill-opacity="0.2712255308832578"/>
<ellipse cx="129.5" cy="91.1" rx="1.3" ry="1.7" fill="#fff" fill-opacity="0.43363295560178916" transform="rotate(10 129.5 91.1)"/>
<ellipse cx="138.5" cy="110.7" rx="1.5" ry="2.6" fill="#fff" fill-opacity="0.2532233772155134" transform="rotate(10 138.5 110.7)"/>
<ellipse cx="125.1" cy="82.8" rx="0.9" ry="1.9" fill="#fff" fill-opacity="0.36694242169421637" transform="rotate(10 125.1 82.8)"/>
<ellipse cx="93.7" cy="110.1" rx="1.4" ry="2.3" fill="#fff" fill-opacity="0.36662158128407146"/>
<ellipse cx="116.0" cy="131.2" rx="1.5" ry="2.1" fill="#fff" fill-opacity="0.4680196889535169"/>
<ellipse cx="159.2" cy="49.0" rx="1.2" ry="2.3" fill="#fff" fill-opacity="0.47019059997878737"/>
<ellipse cx="80.7" cy="145.1" rx="1.0" ry="1.9" fill="#fff" fill-opacity="0.4291882426082199" transform="rotate(20 80.7 145.1)"/>
<ellipse cx="171.6" cy="40.5" rx="1.1" ry="2.0" fill="#fff" fill-opacity="0.4724185955867527" transform="rotate(20 171.6 40.5)"/>
<ellipse cx="113.0" cy="136.6" rx="1.3" ry="1.8" fill="#fff" fill-opacity="0.41331674782100625" transform="rotate(20 113.0 136.6)"/>
<ellipse cx="130.5" cy="122.0" rx="1.2" ry="1.5" fill="#fff" fill-opacity="0.41543960072214725" transform="rotate(10 130.5 122.0)"/>
<ellipse cx="144.3" cy="117.1" rx="0.9" ry="2.6" fill="#fff" fill-opacity="0.359923847451619" transform="rotate(20 144.3 117.1)"/>
<ellipse cx="144.7" cy="88.0" rx="1.0" ry="1.7" fill="#fff" fill-opacity="0.3248295746266643" transform="rotate(10 144.7 88.0)"/>
<ellipse cx="158.7" cy="78.7" rx="1.4" ry="1.6" fill="#fff" fill-opacity="0.3935544057910373" transform="rotate(10 158.7 78.7)"/>
<ellipse cx="148.4" cy="107.9" rx="1.4" ry="1.6" fill="#fff" fill-opacity="0.29431945691149847" transform="rotate(20 148.4 107.9)"/>
<ellipse cx="117.9" cy="132.6" rx="1.4" ry="2.4" fill="#fff" fill-opacity="0.39795377901756473" transform="rotate(20 117.9 132.6)"/>
<ellipse cx="90.6" cy="149.9" rx="1.1" ry="1.8" fill="#fff" fill-opacity="0.468072028054213" transform="rotate(10 90.6 149.9)"/>
<ellipse cx="133.5" cy="110.5" rx="1.2" ry="2.8" fill="#fff" fill-opacity="0.4224683242969392" transform="rotate(20 133.5 110.5)"/>
<ellipse cx="156.9" cy="62.3" rx="0.9" ry="2.3" fill="#fff" fill-opacity="0.2953755139081374"/>
<ellipse cx="127.6" cy="119.1" rx="1.1" ry="2.2" fill="#fff" fill-opacity="0.4682824651544599" transform="rotate(20 127.6 119.1)"/>
<ellipse cx="85.6" cy="139.3" rx="1.2" ry="1.5" fill="#fff" fill-opacity="0.4005398439077282" transform="rotate(10 85.6 139.3)"/>
<ellipse cx="128.2" cy="98.8" rx="0.8" ry="1.9" fill="#fff" fill-opacity="0.46295141298391923" transform="rotate(10 128.2 98.8)"/>
<ellipse cx="149.9" cy="48.5" rx="1.4" ry="2.2" fill="#fff" fill-opacity="0.4246981500260026"/>
<ellipse cx="155.1" cy="77.4" rx="1.4" ry="2.7" fill="#fff" fill-opacity="0.3556636176482625"/>
<ellipse cx="150.4" cy="104.2" rx="1.1" ry="2.3" fill="#fff" fill-opacity="0.25328390749126906" transform="rotate(10 150.4 104.2)"/>
<ellipse cx="122.6" cy="125.4" rx="1.1" ry="2.0" fill="#fff" fill-opacity="0.42562377397727574"/>
<ellipse cx="130.9" cy="112.3" rx="1.0" ry="1.4" fill="#fff" fill-opacity="0.31152165311453583"/>
<ellipse cx="127.9" cy="117.9" rx="0.9" ry="2.3" fill="#fff" fill-opacity="0.3688430986235907" transform="rotate(10 127.9 117.9)"/>
<ellipse cx="121.5" cy="86.3" rx="1.3" ry="1.5" fill="#fff" fill-opacity="0.25718615888178864" transform="rotate(10 121.5 86.3)"/>
</g>
</g></g>
<rect x="327.2" y="12.5" width="152.2" height="164.9" fill="none" stroke="#222" stroke-width="1"/>
<path d="M327.2 40.0h2M479.4 40.0h-2" stroke="#222" stroke-width="0.8"/>
<path d="M327.2 67.5h2M479.4 67.5h-2" stroke="#222" stroke-width="0.8"/>
<path d="M327.2 95.0h2M479.4 95.0h-2" stroke="#222" stroke-width="0.8"/>
<path d="M327.2 122.4h2M479.4 122.4h-2" stroke="#222" stroke-width="0.8"/>
<path d="M327.2 149.9h2M479.4 149.9h-2" stroke="#222" stroke-width="0.8"/>
<path d="M377.9 177.4v-2M377.9 12.5v2" stroke="#222" stroke-width="0.8"/>
<path d="M428.7 177.4v-2M428.7 12.5v2" stroke="#222" stroke-width="0.8"/>
<text transform="translate(321.7 17.1) scale(1 1.05)" font-size="12.3" text-anchor="end">100</text>
<text transform="translate(321.7 44.6) scale(1 1.05)" font-size="12.3" text-anchor="end">150</text>
<text transform="translate(321.7 72.1) scale(1 1.05)" font-size="12.3" text-anchor="end">200</text>
<text transform="translate(321.7 99.5) scale(1 1.05)" font-size="12.3" text-anchor="end">250</text>
<text transform="translate(321.7 127.0) scale(1 1.05)" font-size="12.3" text-anchor="end">300</text>
<text transform="translate(321.7 154.5) scale(1 1.05)" font-size="12.3" text-anchor="end">350</text>
<text transform="translate(321.7 182.0) scale(1 1.05)" font-size="12.3" text-anchor="end">400</text>
<text transform="translate(327.2 194.9) scale(1 1.05)" font-size="12.3" text-anchor="middle">100</text>
<text transform="translate(377.9 194.9) scale(1 1.05)" font-size="12.3" text-anchor="middle">200</text>
<text transform="translate(428.7 194.9) scale(1 1.05)" font-size="12.3" text-anchor="middle">300</text>
<text transform="translate(479.4 194.9) scale(1 1.05)" font-size="12.3" text-anchor="middle">400</text>
<text transform="translate(402.8 211.4) scale(1 1.05)" font-size="13.43" text-anchor="middle">Relative range cell</text>
<text transform="translate(299.9 96.0) scale(1 1.05) rotate(-90)" font-size="12.9035" text-anchor="middle">Relative Doppler cell</text>
<text transform="translate(417.5 229.4) scale(1 1.05)" font-size="12.3" text-anchor="middle">(<tspan font-weight="bold">b</tspan>)</text>
<rect x="351.5" y="38.9" width="30.90" height="21.60" fill="none" stroke="#111" stroke-width="1"/>
<g transform="translate(285.10 1.50)"><path d="M54.5 80.8L64 67" stroke="#111" stroke-width="1.1" fill="none"/><path d="M70.7 58.8L55.9 68.6L63.6 67.4L66.7 75Z" fill="#111"/><text transform="translate(52.5 92.3) scale(1 1.05)" font-size="12.3" text-anchor="middle">2</text></g>
<rect x="488.9" y="12.5" width="23.5" height="164.9" fill="url(#jet)" stroke="#222" stroke-width="0.8"/>
<path d="M512.4 31.6h-2" stroke="#222" stroke-width="0.8"/>
<text transform="translate(517.4 36.2) scale(1 1.05)" font-size="12.3" text-anchor="start">-5</text>
<path d="M512.4 50.0h-2" stroke="#222" stroke-width="0.8"/>
<text transform="translate(517.4 54.6) scale(1 1.05)" font-size="12.3" text-anchor="start">-10</text>
<path d="M512.4 68.5h-2" stroke="#222" stroke-width="0.8"/>
<text transform="translate(517.4 73.1) scale(1 1.05)" font-size="12.3" text-anchor="start">-15</text>
<path d="M512.4 87.0h-2" stroke="#222" stroke-width="0.8"/>
<text transform="translate(517.4 91.6) scale(1 1.05)" font-size="12.3" text-anchor="start">-20</text>
<path d="M512.4 105.4h-2" stroke="#222" stroke-width="0.8"/>
<text transform="translate(517.4 110.0) scale(1 1.05)" font-size="12.3" text-anchor="start">-25</text>
<path d="M512.4 123.9h-2" stroke="#222" stroke-width="0.8"/>
<text transform="translate(517.4 128.5) scale(1 1.05)" font-size="12.3" text-anchor="start">-30</text>
<path d="M512.4 142.4h-2" stroke="#222" stroke-width="0.8"/>
<text transform="translate(517.4 147.0) scale(1 1.05)" font-size="12.3" text-anchor="start">-35</text>
<path d="M512.4 160.9h-2" stroke="#222" stroke-width="0.8"/>
<text transform="translate(517.4 165.5) scale(1 1.05)" font-size="12.3" text-anchor="start">-40</text>
<text transform="translate(544.9 98.5) scale(1 1.05) rotate(-90)" font-size="11.8" text-anchor="middle">Normalized power(dB)</text>
<g clip-path="url(#cc)"><g filter="url(#fc)">
<rect x="180.9" y="249.9" width="158.6" height="173.1" fill="#fff" fill-opacity="0"/>
<g transform="translate(180.90 249.90) scale(1.0305 1.0230) translate(-41.5 -9.6)">
<polygon points="72.0,127.0 80.9,120.8 85.3,115.0 88.9,108.4 93.2,101.2 102.0,92.8 110.5,85.3 119.6,77.0 127.0,69.6 133.8,63.8 138.8,56.5 148.0,49.5 158.0,43.0 168.0,36.0 176.0,31.0 183.0,42.0 181.0,54.0 174.0,63.0 167.0,74.0 162.0,83.0 156.0,93.0 151.0,104.0 147.0,114.0 143.0,121.0 136.0,125.0 130.0,128.0 125.0,131.5 118.0,136.0 110.0,140.5 101.7,146.7 93.0,151.0 91.0,164.0 83.0,166.0 81.0,149.0 72.0,141.0" fill="#fff" fill-opacity="0.16" filter="url(#b2)"/>
<polygon points="96.0,108.0 112.0,90.0 128.0,74.0 140.0,72.0 148.0,98.0 140.0,110.0 128.0,124.0 112.0,136.0 100.0,140.0" fill="#fff" fill-opacity="0.096" filter="url(#b2)"/>
<ellipse cx="75.6" cy="132.5" rx="3.6" ry="7.2" fill="#fff" fill-opacity="0.55"/>
<ellipse cx="81.4" cy="136.0" rx="2.2" ry="6.5" fill="#fff" fill-opacity="0.49500000000000005" transform="rotate(-10 81.4 136.0)"/>
<ellipse cx="88.0" cy="149.0" rx="5.0" ry="5.5" fill="#fff" fill-opacity="0.55"/>
<ellipse cx="85.8" cy="158.0" rx="3.8" ry="7.0" fill="#fff" fill-opacity="0.55" transform="rotate(5 85.8 158.0)"/>
<ellipse cx="97.2" cy="128.5" rx="7.9" ry="13.0" fill="none" stroke="#fff" stroke-opacity="0.66" stroke-width="3.5" stroke-dasharray="3.2 1.0" transform="rotate(10 97.2 128.5)"/>
<ellipse cx="97.2" cy="128.5" rx="3.6" ry="6.8" fill="none" stroke="#fff" stroke-opacity="0.6050000000000001" stroke-width="2.5" stroke-dasharray="2.6 0.9" transform="rotate(10 97.2 128.5)"/>
<ellipse cx="97.2" cy="128.5" rx="1.0" ry="2.0" fill="#fff" fill-opacity="0.55" transform="rotate(10 97.2 128.5)"/>
<ellipse cx="115.2" cy="110.4" rx="5.0" ry="7.8" fill="none" stroke="#fff" stroke-opacity="0.5775000000000001" stroke-width="3.0" transform="rotate(10 115.2 110.4)"/>
<ellipse cx="115.2" cy="110.4" rx="2.0" ry="3.4" fill="#fff" fill-opacity="0.55" transform="rotate(10 115.2 110.4)"/>
<ellipse cx="116.6" cy="129.8" rx="4.2" ry="4.8" fill="#fff" fill-opacity="0.55"/>
<ellipse cx="124.6" cy="122.0" rx="3.8" ry="4.8" fill="#fff" fill-opacity="0.55"/>
<ellipse cx="103.2" cy="95.5" rx="3.4" ry="5.8" fill="#fff" fill-opacity="0.55" transform="rotate(25 103.2 95.5)"/>
<ellipse cx="111.6" cy="87.8" rx="3.4" ry="5.0" fill="#fff" fill-opacity="0.55" transform="rotate(25 111.6 87.8)"/>
<ellipse cx="120.5" cy="79.0" rx="3.4" ry="5.0" fill="#fff" fill-opacity="0.55" transform="rotate(25 120.5 79.0)"/>
<ellipse cx="127.8" cy="71.6" rx="3.0" ry="4.5" fill="#fff" fill-opacity="0.49500000000000005" transform="rotate(25 127.8 71.6)"/>
<ellipse cx="133.8" cy="65.8" rx="2.0" ry="3.0" fill="#fff" fill-opacity="0.44000000000000006" transform="rotate(25 133.8 65.8)"/>
<ellipse cx="124.9" cy="112.0" rx="2.4" ry="10.5" fill="#fff" fill-opacity="0.55" transform="rotate(8 124.9 112.0)"/>
<ellipse cx="126.3" cy="99.5" rx="2.4" ry="5.0" fill="#fff" fill-opacity="0.49500000000000005" transform="rotate(10 126.3 99.5)"/>
<ellipse cx="131.5" cy="104.0" rx="3.1" ry="11.5" fill="#fff" fill-opacity="0.55" transform="rotate(8 131.5 104.0)"/>
<ellipse cx="140.2" cy="104.6" rx="2.7" ry="7.3" fill="#fff" fill-opacity="0.55" transform="rotate(10 140.2 104.6)"/>
<ellipse cx="136.0" cy="111.0" rx="1.8" ry="5.5" fill="#fff" fill-opacity="0.44000000000000006" transform="rotate(10 136.0 111.0)"/>
<ellipse cx="144.5" cy="99.0" rx="1.6" ry="3.5" fill="#fff" fill-opacity="0.44000000000000006" transform="rotate(10 144.5 99.0)"/>
<ellipse cx="132.5" cy="106.0" rx="10.0" ry="14.0" fill="#fff" fill-opacity="0.11000000000000001" transform="rotate(25 132.5 106.0)"/>
<ellipse cx="176.8" cy="46.0" rx="3.0" ry="9.5" fill="#fff" fill-opacity="0.55" transform="rotate(16 176.8 46.0)"/>
<ellipse cx="178.3" cy="40.5" rx="2.4" ry="6.5" fill="#fff" fill-opacity="0.44000000000000006" transform="rotate(14 178.3 40.5)"/>
<ellipse cx="174.8" cy="52.5" rx="2.2" ry="4.5" fill="#fff" fill-opacity="0.385" transform="rotate(22 174.8 52.5)"/>
<ellipse cx="177.0" cy="45.0" rx="5.2" ry="12.0" fill="#fff" fill-opacity="0.15400000000000003" transform="rotate(17 177.0 45.0)"/>
<path d="M166.0 44.0L174.5 65.5" stroke="#fff" stroke-opacity="0.5225" stroke-width="1.7" stroke-dasharray="2.2 3.4" stroke-dashoffset="0.0" stroke-linecap="round" fill="none"/>
<path d="M159.5 46.8L170.7 74.9" stroke="#fff" stroke-opacity="0.5225" stroke-width="1.7" stroke-dasharray="2.2 3.4" stroke-dashoffset="1.7" stroke-linecap="round" fill="none"/>
<path d="M154.0 49.6L164.2 78.6" stroke="#fff" stroke-opacity="0.5225" stroke-width="1.7" stroke-dasharray="2.2 3.4" stroke-dashoffset="3.4" stroke-linecap="round" fill="none"/>
<path d="M149.3 52.4L160.5 84.2" stroke="#fff" stroke-opacity="0.5225" stroke-width="1.7" stroke-dasharray="2.2 3.4" stroke-dashoffset="5.1" stroke-linecap="round" fill="none"/>
<path d="M143.6 55.2L155.8 89.8" stroke="#fff" stroke-opacity="0.5225" stroke-width="1.7" stroke-dasharray="2.2 3.4" stroke-dashoffset="6.8" stroke-linecap="round" fill="none"/>
<path d="M138.0 58.0L152.0 95.4" stroke="#fff" stroke-opacity="0.5225" stroke-width="1.7" stroke-dasharray="2.2 3.4" stroke-dashoffset="8.5" stroke-linecap="round" fill="none"/>
<path d="M133.4 61.8L150.2 102.9" stroke="#fff" stroke-opacity="0.5225" stroke-width="1.7" stroke-dasharray="2.2 3.4" stroke-dashoffset="10.2" stroke-linecap="round" fill="none"/>
<path d="M128.7 66.4L145.5 108.5" stroke="#fff" stroke-opacity="0.5225" stroke-width="1.7" stroke-dasharray="2.2 3.4" stroke-dashoffset="11.9" stroke-linecap="round" fill="none"/>
<path d="M124.0 68.0L130.5 76.5" stroke="#fff" stroke-opacity="0.49500000000000005" stroke-width="3.8" stroke-dasharray="3.6 2.6" stroke-dashoffset="0" stroke-linecap="round" fill="none"/>
<path d="M133.0 80.0L144.5 94.0" stroke="#fff" stroke-opacity="0.49500000000000005" stroke-width="3.6" stroke-dasharray="3.6 2.6" stroke-dashoffset="0" stroke-linecap="round" fill="none"/>
<path d="M141.5 61.5L147.0 71.5" stroke="#fff" stroke-opacity="0.49500000000000005" stroke-width="3.4" stroke-dasharray="3.6 2.6" stroke-dashoffset="0" stroke-linecap="round" fill="none"/>
<path d="M148.5 75.0L154.5 86.0" stroke="#fff" stroke-opacity="0.49500000000000005" stroke-width="3.2" stroke-dasharray="3.6 2.6" stroke-dashoffset="0" stroke-linecap="round" fill="none"/>
<ellipse cx="178.6" cy="30.0" rx="0.9" ry="6.0" fill="#fff" fill-opacity="0.165"/>
<ellipse cx="157.2" cy="67.5" rx="2.2" ry="4.2" fill="#fff" fill-opacity="0.55" transform="rotate(20 157.2 67.5)"/>
<ellipse cx="161.5" cy="76.0" rx="1.6" ry="2.8" fill="#fff" fill-opacity="0.44000000000000006" transform="rotate(20 161.5 76.0)"/>
<path d="M74.0 126.5L80.9 121.0L85.3 115.5L88.9 109.0L93.2 102.2L98.0 98.0" stroke="#fff" stroke-opacity="0.55" stroke-width="1.8" stroke-dasharray="2 3" stroke-linecap="round" stroke-linejoin="round" fill="none"/>
<path d="M80.0 127.0L84.0 146.0" stroke="#fff" stroke-opacity="0.385" stroke-width="1.5" stroke-dasharray="1.8 3" stroke-dashoffset="0" stroke-linecap="round" fill="none"/>
<path d="M85.0 121.0L88.0 141.0" stroke="#fff" stroke-opacity="0.385" stroke-width="1.5" stroke-dasharray="1.8 3" stroke-dashoffset="0" stroke-linecap="round" fill="none"/>
<path d="M89.5 114.0L90.5 122.0" stroke="#fff" stroke-opacity="0.385" stroke-width="1.5" stroke-dasharray="1.8 3" stroke-dashoffset="0" stroke-linecap="round" fill="none"/>
<path d="M93.0 150.0L101.7 144.7L110.0 138.5L117.0 134.0L124.0 128.5L130.0 122.0" stroke="#fff" stroke-opacity="0.49500000000000005" stroke-width="1.8" stroke-dasharray="1.8 3.2" stroke-linecap="round" stroke-linejoin="round" fill="none"/>
<path d="M100.0 139.0L106.0 140.0L112.0 134.0L121.0 131.0" stroke="#fff" stroke-opacity="0.385" stroke-width="1.5" stroke-dasharray="1.8 3.2" stroke-linecap="round" stroke-linejoin="round" fill="none"/>
<path d="M104.0 118.0L108.0 126.0L110.0 136.0" stroke="#fff" stroke-opacity="0.385" stroke-width="1.5" stroke-dasharray="1.8 3.2" stroke-linecap="round" stroke-linejoin="round" fill="none"/>
<path d="M105.0 104.0L108.0 100.0L114.0 97.0L120.0 90.0L124.0 86.0" stroke="#fff" stroke-opacity="0.385" stroke-width="1.5" stroke-dasharray="1.8 3.2" stroke-linecap="round" stroke-linejoin="round" fill="none"/>
<ellipse cx="97.4" cy="105.1" rx="1.1" ry="2.2" fill="#fff" fill-opacity="0.3912608908766389" transform="rotate(20 97.4 105.1)"/>
<ellipse cx="124.0" cy="106.0" rx="0.9" ry="2.4" fill="#fff" fill-opacity="0.45452420919041125" transform="rotate(20 124.0 106.0)"/>
<ellipse cx="124.8" cy="118.2" rx="0.9" ry="2.3" fill="#fff" fill-opacity="0.3440093384195852" transform="rotate(20 124.8 118.2)"/>
<ellipse cx="88.3" cy="162.1" rx="0.8" ry="2.5" fill="#fff" fill-opacity="0.3645053994447031" transform="rotate(10 88.3 162.1)"/>
<ellipse cx="171.1" cy="43.4" rx="0.9" ry="1.7" fill="#fff" fill-opacity="0.3554500619902888" transform="rotate(20 171.1 43.4)"/>
<ellipse cx="142.1" cy="71.5" rx="1.2" ry="1.9" fill="#fff" fill-opacity="0.3796905135348875" transform="rotate(10 142.1 71.5)"/>
<ellipse cx="150.3" cy="75.0" rx="1.2" ry="2.2" fill="#fff" fill-opacity="0.42416971249311436"/>
<ellipse cx="94.3" cy="144.8" rx="1.2" ry="1.8" fill="#fff" fill-opacity="0.36679535213001646"/>
<ellipse cx="143.5" cy="96.7" rx="1.0" ry="1.5" fill="#fff" fill-opacity="0.25248102512387993"/>
<ellipse cx="119.1" cy="87.3" rx="0.9" ry="2.2" fill="#fff" fill-opacity="0.3410066803195627"/>
<ellipse cx="137.4" cy="106.0" rx="1.4" ry="1.8" fill="#fff" fill-opacity="0.4946309639805047"/>
<ellipse cx="122.9" cy="101.8" rx="1.3" ry="2.2" fill="#fff" fill-opacity="0.2728867743609937" transform="rotate(20 122.9 101.8)"/>
<ellipse cx="142.9" cy="75.9" rx="1.0" ry="2.7" fill="#fff" fill-opacity="0.42247018671806" transform="rotate(20 142.9 75.9)"/>
<ellipse cx="138.5" cy="71.5" rx="1.1" ry="2.5" fill="#fff" fill-opacity="0.48791518901207565"/>
<ellipse cx="127.5" cy="120.2" rx="1.0" ry="1.9" fill="#fff" fill-opacity="0.35522049433187325" transform="rotate(20 127.5 120.2)"/>
<ellipse cx="168.4" cy="53.4" rx="1.0" ry="2.3" fill="#fff" fill-opacity="0.3591477906105926" transform="rotate(20 168.4 53.4)"/>
<ellipse cx="162.7" cy="77.6" rx="0.9" ry="1.8" fill="#fff" fill-opacity="0.36251839692311505" transform="rotate(10 162.7 77.6)"/>
<ellipse cx="142.9" cy="70.1" rx="1.2" ry="1.4" fill="#fff" fill-opacity="0.2861094700872439" transform="rotate(10 142.9 70.1)"/>
<ellipse cx="146.2" cy="101.6" rx="1.0" ry="1.9" fill="#fff" fill-opacity="0.4607289531964566"/>
<ellipse cx="74.0" cy="140.8" rx="1.2" ry="1.7" fill="#fff" fill-opacity="0.3902959674948143" transform="rotate(10 74.0 140.8)"/>
<ellipse cx="146.2" cy="102.4" rx="1.1" ry="2.7" fill="#fff" fill-opacity="0.27561285860452645" transform="rotate(20 146.2 102.4)"/>
<ellipse cx="84.4" cy="164.1" rx="1.2" ry="2.5" fill="#fff" fill-opacity="0.33458080347365726"/>
<ellipse cx="92.7" cy="103.8" rx="1.4" ry="1.6" fill="#fff" fill-opacity="0.4756372115402239" transform="rotate(10 92.7 103.8)"/>
<ellipse cx="169.2" cy="36.9" rx="1.0" ry="1.8" fill="#fff" fill-opacity="0.3761188260442655" transform="rotate(20 169.2 36.9)"/>
<ellipse cx="73.8" cy="128.4" rx="1.2" ry="2.1" fill="#fff" fill-opacity="0.32535850057575366"/>
<ellipse cx="110.4" cy="119.3" rx="1.2" ry="1.9" fill="#fff" fill-opacity="0.49203563175255166"/>
<ellipse cx="144.8" cy="104.7" rx="1.2" ry="1.5" fill="#fff" fill-opacity="0.26063352966438225" transform="rotate(10 144.8 104.7)"/>
<ellipse cx="170.1" cy="46.8" rx="1.3" ry="2.7" fill="#fff" fill-opacity="0.4114166768478115" transform="rotate(20 170.1 46.8)"/>
<ellipse cx="86.5" cy="136.9" rx="0.8" ry="1.5" fill="#fff" fill-opacity="0.4106537215442643"/>
<ellipse cx="125.4" cy="126.1" rx="1.0" ry="1.8" fill="#fff" fill-opacity="0.2564766442892755"/>
<ellipse cx="156.7" cy="84.3" rx="1.1" ry="2.0" fill="#fff" fill-opacity="0.38526808154589587" transform="rotate(10 156.7 84.3)"/>
<ellipse cx="148.8" cy="51.6" rx="1.1" ry="2.6" fill="#fff" fill-opacity="0.2712255308832578"/>
<ellipse cx="129.5" cy="91.1" rx="1.3" ry="1.7" fill="#fff" fill-opacity="0.43363295560178916" transform="rotate(10 129.5 91.1)"/>
<ellipse cx="138.5" cy="110.7" rx="1.5" ry="2.6" fill="#fff" fill-opacity="0.2532233772155134" transform="rotate(10 138.5 110.7)"/>
<ellipse cx="125.1" cy="82.8" rx="0.9" ry="1.9" fill="#fff" fill-opacity="0.36694242169421637" transform="rotate(10 125.1 82.8)"/>
<ellipse cx="93.7" cy="110.1" rx="1.4" ry="2.3" fill="#fff" fill-opacity="0.36662158128407146"/>
<ellipse cx="116.0" cy="131.2" rx="1.5" ry="2.1" fill="#fff" fill-opacity="0.4680196889535169"/>
<ellipse cx="159.2" cy="49.0" rx="1.2" ry="2.3" fill="#fff" fill-opacity="0.47019059997878737"/>
<ellipse cx="80.7" cy="145.1" rx="1.0" ry="1.9" fill="#fff" fill-opacity="0.4291882426082199" transform="rotate(20 80.7 145.1)"/>
<ellipse cx="171.6" cy="40.5" rx="1.1" ry="2.0" fill="#fff" fill-opacity="0.4724185955867527" transform="rotate(20 171.6 40.5)"/>
<ellipse cx="113.0" cy="136.6" rx="1.3" ry="1.8" fill="#fff" fill-opacity="0.41331674782100625" transform="rotate(20 113.0 136.6)"/>
<ellipse cx="130.5" cy="122.0" rx="1.2" ry="1.5" fill="#fff" fill-opacity="0.41543960072214725" transform="rotate(10 130.5 122.0)"/>
<ellipse cx="144.3" cy="117.1" rx="0.9" ry="2.6" fill="#fff" fill-opacity="0.359923847451619" transform="rotate(20 144.3 117.1)"/>
<ellipse cx="144.7" cy="88.0" rx="1.0" ry="1.7" fill="#fff" fill-opacity="0.3248295746266643" transform="rotate(10 144.7 88.0)"/>
<ellipse cx="158.7" cy="78.7" rx="1.4" ry="1.6" fill="#fff" fill-opacity="0.3935544057910373" transform="rotate(10 158.7 78.7)"/>
<ellipse cx="148.4" cy="107.9" rx="1.4" ry="1.6" fill="#fff" fill-opacity="0.29431945691149847" transform="rotate(20 148.4 107.9)"/>
<ellipse cx="117.9" cy="132.6" rx="1.4" ry="2.4" fill="#fff" fill-opacity="0.39795377901756473" transform="rotate(20 117.9 132.6)"/>
<ellipse cx="90.6" cy="149.9" rx="1.1" ry="1.8" fill="#fff" fill-opacity="0.468072028054213" transform="rotate(10 90.6 149.9)"/>
<ellipse cx="133.5" cy="110.5" rx="1.2" ry="2.8" fill="#fff" fill-opacity="0.4224683242969392" transform="rotate(20 133.5 110.5)"/>
<ellipse cx="156.9" cy="62.3" rx="0.9" ry="2.3" fill="#fff" fill-opacity="0.2953755139081374"/>
<ellipse cx="127.6" cy="119.1" rx="1.1" ry="2.2" fill="#fff" fill-opacity="0.4682824651544599" transform="rotate(20 127.6 119.1)"/>
<ellipse cx="85.6" cy="139.3" rx="1.2" ry="1.5" fill="#fff" fill-opacity="0.4005398439077282" transform="rotate(10 85.6 139.3)"/>
<ellipse cx="128.2" cy="98.8" rx="0.8" ry="1.9" fill="#fff" fill-opacity="0.46295141298391923" transform="rotate(10 128.2 98.8)"/>
<ellipse cx="149.9" cy="48.5" rx="1.4" ry="2.2" fill="#fff" fill-opacity="0.4246981500260026"/>
<ellipse cx="155.1" cy="77.4" rx="1.4" ry="2.7" fill="#fff" fill-opacity="0.3556636176482625"/>
<ellipse cx="150.4" cy="104.2" rx="1.1" ry="2.3" fill="#fff" fill-opacity="0.25328390749126906" transform="rotate(10 150.4 104.2)"/>
<ellipse cx="122.6" cy="125.4" rx="1.1" ry="2.0" fill="#fff" fill-opacity="0.42562377397727574"/>
<ellipse cx="130.9" cy="112.3" rx="1.0" ry="1.4" fill="#fff" fill-opacity="0.31152165311453583"/>
<ellipse cx="127.9" cy="117.9" rx="0.9" ry="2.3" fill="#fff" fill-opacity="0.3688430986235907" transform="rotate(10 127.9 117.9)"/>
<ellipse cx="121.5" cy="86.3" rx="1.3" ry="1.5" fill="#fff" fill-opacity="0.25718615888178864" transform="rotate(10 121.5 86.3)"/>
</g>
</g></g>
<rect x="180.9" y="249.9" width="158.6" height="173.1" fill="none" stroke="#222" stroke-width="1"/>
<path d="M180.9 278.8h2M339.5 278.8h-2" stroke="#222" stroke-width="0.8"/>
<path d="M180.9 307.6h2M339.5 307.6h-2" stroke="#222" stroke-width="0.8"/>
<path d="M180.9 336.4h2M339.5 336.4h-2" stroke="#222" stroke-width="0.8"/>
<path d="M180.9 365.3h2M339.5 365.3h-2" stroke="#222" stroke-width="0.8"/>
<path d="M180.9 394.1h2M339.5 394.1h-2" stroke="#222" stroke-width="0.8"/>
<path d="M233.8 423.0v-2M233.8 249.9v2" stroke="#222" stroke-width="0.8"/>
<path d="M286.6 423.0v-2M286.6 249.9v2" stroke="#222" stroke-width="0.8"/>
<text transform="translate(174.6 254.5) scale(1 1.05)" font-size="12.67" text-anchor="end">100</text>
<text transform="translate(174.6 283.4) scale(1 1.05)" font-size="12.67" text-anchor="end">150</text>
<text transform="translate(174.6 312.2) scale(1 1.05)" font-size="12.67" text-anchor="end">200</text>
<text transform="translate(174.6 341.1) scale(1 1.05)" font-size="12.67" text-anchor="end">250</text>
<text transform="translate(174.6 369.9) scale(1 1.05)" font-size="12.67" text-anchor="end">300</text>
<text transform="translate(174.6 398.8) scale(1 1.05)" font-size="12.67" text-anchor="end">350</text>
<text transform="translate(174.6 427.6) scale(1 1.05)" font-size="12.67" text-anchor="end">400</text>
<text transform="translate(180.9 441.2) scale(1 1.05)" font-size="12.67" text-anchor="middle">100</text>
<text transform="translate(233.8 441.2) scale(1 1.05)" font-size="12.67" text-anchor="middle">200</text>
<text transform="translate(286.6 441.2) scale(1 1.05)" font-size="12.67" text-anchor="middle">300</text>
<text transform="translate(339.5 441.2) scale(1 1.05)" font-size="12.67" text-anchor="middle">400</text>
<text transform="translate(259.7 456.7) scale(1 1.05)" font-size="13.83" text-anchor="middle">Relative range cell</text>
<text transform="translate(152.1 336.4) scale(1 1.05) rotate(-90)" font-size="13.49" text-anchor="middle">Relative Doppler cell</text>
<text transform="translate(273.4 474.2) scale(1 1.05)" font-size="12.3" text-anchor="middle">(<tspan font-weight="bold">c</tspan>)</text>
<rect x="206" y="277.2" width="32.40" height="23.10" fill="none" stroke="#111" stroke-width="1"/>
<g transform="translate(139.60 241.30)"><path d="M54.5 80.8L64 67" stroke="#111" stroke-width="1.1" fill="none"/><path d="M70.7 58.8L55.9 68.6L63.6 67.4L66.7 75Z" fill="#111"/><text transform="translate(52.5 92.3) scale(1 1.05)" font-size="12.67" text-anchor="middle">3</text></g>
<rect x="349.5" y="249.9" width="23.3" height="173.1" fill="url(#jet)" stroke="#222" stroke-width="0.8"/>
<path d="M372.8 250.2h-2" stroke="#222" stroke-width="0.8"/>
<text transform="translate(378.3 254.8) scale(1 1.05)" font-size="12.67" text-anchor="start">0</text>
<path d="M372.8 285.9h-2" stroke="#222" stroke-width="0.8"/>
<text transform="translate(378.3 290.5) scale(1 1.05)" font-size="12.67" text-anchor="start">-10</text>
<path d="M372.8 321.6h-2" stroke="#222" stroke-width="0.8"/>
<text transform="translate(378.3 326.2) scale(1 1.05)" font-size="12.67" text-anchor="start">-20</text>
<path d="M372.8 357.3h-2" stroke="#222" stroke-width="0.8"/>
<text transform="translate(378.3 361.9) scale(1 1.05)" font-size="12.67" text-anchor="start">-30</text>
<path d="M372.8 393.0h-2" stroke="#222" stroke-width="0.8"/>
<text transform="translate(378.3 397.6) scale(1 1.05)" font-size="12.67" text-anchor="start">-40</text>
<text transform="translate(406.8 329.9) scale(1 1.05) rotate(-90)" font-size="12.15" text-anchor="middle">Normalized power(dB)</text>
</svg></body></html>
